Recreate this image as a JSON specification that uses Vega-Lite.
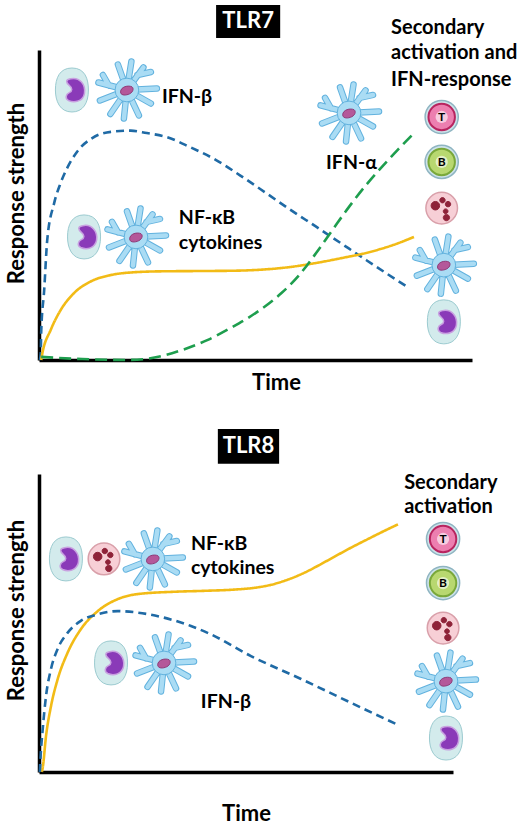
{
  "$schema": "https://vega.github.io/schema/vega-lite/v6.json",
  "background": "white",
  "padding": 5,
  "spacing": 36,
  "config": {
    "view": {"stroke": null},
    "axis": {"domainColor": "black", "domainWidth": 3.5, "ticks": false, "labels": false, "grid": false, "titleFont": "Lato", "titleFontSize": 22, "titleFontWeight": "bold", "titleColor": "black"},
    "text": {"font": "Lato"}
  },
  "vconcat": [
    {
      "width": 433,
      "height": 310,
      "encoding": {
        "x": {"field": "x", "type": "quantitative", "scale": {"domain": [0, 100], "nice": false, "zero": false}, "axis": {"title": "Time", "titlePadding": 12, "titleX": 237}},
        "y": {"field": "y", "type": "quantitative", "scale": {"domain": [0, 100], "nice": false, "zero": false}, "axis": {"title": "Response strength", "titlePadding": 11, "titleY": 143}}
      },
      "layer": [
        {
          "data": {"values": [{"x": 40.9, "x2": 55.7, "y": 103.9, "y2": 114.5}]},
          "mark": {"type": "rect", "color": "black"},
          "encoding": {"x2": {"field": "x2"}, "y2": {"field": "y2"}}
        },
        {
          "data": {"values": [{"x": 48.3, "y": 109.2, "label": "TLR7"}]},
          "mark": {"type": "text", "color": "white", "fontWeight": "bold", "fontSize": 22, "align": "center", "baseline": "middle"},
          "encoding": {"text": {"field": "label"}}
        },
        {
          "data": {"values": [
            {"s": "b", "x": 0.2, "y": 0}, {"s": "b", "x": 0.4, "y": 2.3}, {"s": "b", "x": 0.5, "y": 8.7}, {"s": "b", "x": 1.2, "y": 22.6}, {"s": "b", "x": 1.9, "y": 38.7}, {"s": "b", "x": 3.5, "y": 50.6}, {"s": "b", "x": 5, "y": 57.1}, {"s": "b", "x": 6.5, "y": 61.9}, {"s": "b", "x": 8.8, "y": 67.2}, {"s": "b", "x": 12.3, "y": 71.6}, {"s": "b", "x": 16.6, "y": 73.6}, {"s": "b", "x": 21.2, "y": 74}, {"s": "b", "x": 24.9, "y": 73.2}, {"s": "b", "x": 29.3, "y": 72}, {"s": "b", "x": 35, "y": 68.6}, {"s": "b", "x": 40.9, "y": 64.5}, {"s": "b", "x": 46.5, "y": 59.5}, {"s": "b", "x": 52.4, "y": 53.9}, {"s": "b", "x": 58, "y": 48.5}, {"s": "b", "x": 64, "y": 43}, {"s": "b", "x": 69.8, "y": 37.6}, {"s": "b", "x": 75.5, "y": 32.3}, {"s": "b", "x": 80.5, "y": 27.7}, {"s": "b", "x": 85.5, "y": 23.2},
            {"s": "n", "x": 0.5, "y": 0}, {"s": "n", "x": 0.8, "y": 2.3}, {"s": "n", "x": 2.7, "y": 9.7}, {"s": "n", "x": 5, "y": 16.1}, {"s": "n", "x": 8.1, "y": 21.6}, {"s": "n", "x": 11.9, "y": 25.3}, {"s": "n", "x": 16.6, "y": 27.4}, {"s": "n", "x": 21.9, "y": 28.3}, {"s": "n", "x": 28, "y": 28.6}, {"s": "n", "x": 37, "y": 28.7}, {"s": "n", "x": 45, "y": 28.8}, {"s": "n", "x": 52, "y": 29.2}, {"s": "n", "x": 58, "y": 30}, {"s": "n", "x": 64, "y": 31.3}, {"s": "n", "x": 70, "y": 32.9}, {"s": "n", "x": 76, "y": 34.7}, {"s": "n", "x": 82, "y": 37.2}, {"s": "n", "x": 86.6, "y": 39.7},
            {"s": "a", "x": 0.5, "y": 1}, {"s": "a", "x": 10, "y": 0.3}, {"s": "a", "x": 20, "y": 0}, {"s": "a", "x": 25, "y": 0.4}, {"s": "a", "x": 29, "y": 1.5}, {"s": "a", "x": 33, "y": 3.2}, {"s": "a", "x": 39, "y": 6.5}, {"s": "a", "x": 44.6, "y": 10.6}, {"s": "a", "x": 50.5, "y": 15.6}, {"s": "a", "x": 56, "y": 21.6}, {"s": "a", "x": 60.2, "y": 27.6}, {"s": "a", "x": 64, "y": 34.5}, {"s": "a", "x": 67.8, "y": 42}, {"s": "a", "x": 71.6, "y": 49.4}, {"s": "a", "x": 75.4, "y": 56.2}, {"s": "a", "x": 79.2, "y": 62.3}, {"s": "a", "x": 83, "y": 68}, {"s": "a", "x": 86.6, "y": 73.2}
          ]},
          "mark": {"type": "line", "strokeWidth": 2.6, "interpolate": "monotone"},
          "encoding": {
            "color": {"field": "s", "type": "nominal", "scale": {"domain": ["b", "n", "a"], "range": ["#1f6aa5", "#f2bb16", "#1e9e4e"]}, "legend": null},
            "strokeDash": {"field": "s", "type": "nominal", "scale": {"domain": ["b", "n", "a"], "range": [[8, 5], [1, 0], [12, 6]]}, "legend": null}
          }
        },
        {
          "data": {"values": [{"x": 28.4, "y": 84.8, "text": "IFN-β"}, {"x": 32.3, "y": 45.8, "text": "NF-κB"}, {"x": 32.3, "y": 37.7, "text": "cytokines"}, {"x": 66.3, "y": 63.5, "text": "IFN-α"}]},
          "mark": {"type": "text", "fontWeight": "bold", "fontSize": 19.5, "align": "left", "baseline": "middle", "color": "black"},
          "encoding": {"text": {"field": "text"}}
        },
        {
          "data": {"values": [{"x": 81.3, "y": 107, "text": "Secondary"}, {"x": 81.3, "y": 99, "text": "activation and"}, {"x": 81.3, "y": 90.3, "text": "IFN-response"}]},
          "mark": {"type": "text", "fontWeight": "bold", "fontSize": 20, "align": "left", "baseline": "middle", "color": "black"},
          "encoding": {"text": {"field": "text"}}
        },
        {
          "data": {"values": [{"x": 7.6, "y": 87.1, "type": "mono"}, {"x": 20.3, "y": 87.1, "type": "dc"}, {"x": 10.4, "y": 39.7, "type": "mono"}, {"x": 22.4, "y": 39.7, "type": "dc"}, {"x": 71.6, "y": 79.7, "type": "dc"}, {"x": 93, "y": 78.4, "type": "T"}, {"x": 93, "y": 63.9, "type": "B"}, {"x": 93, "y": 49, "type": "neut"}, {"x": 93.5, "y": 30.6, "type": "dc"}, {"x": 93.5, "y": 12.3, "type": "mono"}]},
          "layer": [
            {"transform": [{"filter": "datum.type == 'dc'"}], "mark": {"type": "point", "opacity": 1, "filled": false, "shape": "M0,0L-0.95,-0.25M-0.6,-0.15L-0.8,-0.5M0,0L-0.3,-0.85M0,0L0.15,-0.95M0,0L0.55,-0.75M0.35,-0.5L0.8,-0.6M0,0L1,-0.05M0,0L0.8,0.45M0,0L0.4,0.85M0,0L-0.1,0.95M0,0L-0.55,0.8M0,0L-0.9,0.35", "size": 3600, "stroke": "#62b2de", "strokeWidth": 6.5, "strokeCap": "round", "strokeJoin": "round"}},
            {"transform": [{"filter": "datum.type == 'dc'"}], "mark": {"type": "point", "opacity": 1, "filled": false, "shape": "M0,0L-0.95,-0.25M-0.6,-0.15L-0.8,-0.5M0,0L-0.3,-0.85M0,0L0.15,-0.95M0,0L0.55,-0.75M0.35,-0.5L0.8,-0.6M0,0L1,-0.05M0,0L0.8,0.45M0,0L0.4,0.85M0,0L-0.1,0.95M0,0L-0.55,0.8M0,0L-0.9,0.35", "size": 3600, "stroke": "#aadcf4", "strokeWidth": 4.5, "strokeCap": "round", "strokeJoin": "round"}},
            {"transform": [{"filter": "datum.type == 'dc'"}], "mark": {"type": "point", "opacity": 1, "filled": true, "shape": "circle", "size": 560, "fill": "#aadcf4", "stroke": "#62b2de", "strokeWidth": 1}},
            {"transform": [{"filter": "datum.type == 'dc'"}], "mark": {"type": "point", "opacity": 1, "filled": true, "shape": "M-1,0.3C-1,-0.5 0.2,-0.8 0.8,-0.5C1.2,-0.2 0.9,0.5 0.2,0.7C-0.4,0.9 -1,0.8 -1,0.3Z", "size": 160, "fill": "#b4589a", "stroke": "#8e3c78", "strokeWidth": 1}},
            {"transform": [{"filter": "datum.type == 'mono'"}], "mark": {"type": "point", "opacity": 1, "filled": true, "shape": "M0,-1C0.6,-1 0.75,-0.5 0.75,0C0.75,0.6 0.5,1 0,1C-0.55,1 -0.75,0.5 -0.75,0C-0.75,-0.55 -0.55,-1 0,-1Z", "size": 1936, "fill": "#d3ebec", "stroke": "#9ccbd0", "strokeWidth": 1}},
            {"transform": [{"filter": "datum.type == 'mono'"}], "mark": {"type": "point", "opacity": 1, "filled": true, "shape": "M-0.1,-0.85C0.6,-1 1.05,-0.4 0.95,0.25C0.85,0.85 0.2,1 -0.25,0.8C-0.55,0.65 -0.45,0.3 -0.2,0.2C0.05,0.1 0.05,-0.15 -0.2,-0.35C-0.45,-0.55 -0.5,-0.8 -0.1,-0.85Z", "size": 700, "fill": "#8a3ab8", "stroke": "#c8a0e0", "strokeWidth": 1.5}},
            {"transform": [{"filter": "datum.type == 'T' || datum.type == 'B'"}], "mark": {"type": "point", "opacity": 1, "filled": true, "shape": "circle", "size": 1100, "fill": "#cde3ea", "stroke": "#8fb5c2", "strokeWidth": 1.5}},
            {"transform": [{"filter": "datum.type == 'T'"}], "mark": {"type": "point", "opacity": 1, "filled": true, "shape": "circle", "size": 700, "fill": "#ec7fb0", "stroke": "#b8245f", "strokeWidth": 2}},
            {"transform": [{"filter": "datum.type == 'B'"}], "mark": {"type": "point", "opacity": 1, "filled": true, "shape": "circle", "size": 700, "fill": "#b8d870", "stroke": "#7aa83a", "strokeWidth": 2}},
            {"transform": [{"filter": "datum.type == 'T' || datum.type == 'B'"}], "mark": {"type": "point", "opacity": 0.6, "filled": true, "shape": "circle", "size": 150, "fill": "white", "strokeWidth": 0}},
            {"transform": [{"filter": "datum.type == 'T' || datum.type == 'B'"}], "mark": {"type": "text", "fontWeight": "bold", "fontSize": 12, "align": "center", "baseline": "middle", "color": "black"}, "encoding": {"text": {"field": "type"}}},
            {"transform": [{"filter": "datum.type == 'neut'"}], "mark": {"type": "point", "opacity": 1, "filled": true, "shape": "circle", "size": 1000, "fill": "#f7cfd6", "stroke": "#d9a0aa", "strokeWidth": 1.5}},
            {"transform": [{"filter": "datum.type == 'neut'"}], "mark": {"type": "point", "opacity": 1, "filled": true, "shape": "M-0.67,-0.15a0.27,0.27 0 1,0 0.54,0a0.27,0.27 0 1,0 -0.54,0M-0.12,-0.5a0.17,0.17 0 1,0 0.34,0a0.17,0.17 0 1,0 -0.34,0M0.23,-0.25a0.17,0.17 0 1,0 0.34,0a0.17,0.17 0 1,0 -0.34,0M0.1,0.2a0.15,0.15 0 1,0 0.3,0a0.15,0.15 0 1,0 -0.3,0M0.1,0.6a0.2,0.2 0 1,0 0.4,0a0.2,0.2 0 1,0 -0.4,0", "size": 1000, "fill": "#8e2238", "stroke": "#8e2238", "strokeWidth": 1}}
          ]
        }
      ]
    },
    {
      "width": 414,
      "height": 298,
      "encoding": {
        "x": {"field": "x", "type": "quantitative", "scale": {"domain": [0, 100], "nice": false, "zero": false}, "axis": {"title": "Time", "titlePadding": 31}},
        "y": {"field": "y", "type": "quantitative", "scale": {"domain": [0, 100], "nice": false, "zero": false}, "axis": {"title": "Response strength", "titlePadding": 11, "titleY": 136}}
      },
      "layer": [
        {
          "data": {"values": [{"x": 43.2, "x2": 58, "y": 103.4, "y2": 115.1}]},
          "mark": {"type": "rect", "color": "black"},
          "encoding": {"x2": {"field": "x2"}, "y2": {"field": "y2"}}
        },
        {
          "data": {"values": [{"x": 50.6, "y": 109.3, "label": "TLR8"}]},
          "mark": {"type": "text", "color": "white", "fontWeight": "bold", "fontSize": 22, "align": "center", "baseline": "middle"},
          "encoding": {"text": {"field": "label"}}
        },
        {
          "data": {"values": [
            {"s": "n", "x": 0.7, "y": 0}, {"s": "n", "x": 0.9, "y": 1.4}, {"s": "n", "x": 1.7, "y": 12.1}, {"s": "n", "x": 2.9, "y": 22.1}, {"s": "n", "x": 4.5, "y": 31.1}, {"s": "n", "x": 6.9, "y": 40}, {"s": "n", "x": 10.1, "y": 47.9}, {"s": "n", "x": 14.2, "y": 54}, {"s": "n", "x": 19, "y": 58}, {"s": "n", "x": 23.8, "y": 59.7}, {"s": "n", "x": 33, "y": 60.5}, {"s": "n", "x": 40, "y": 60.8}, {"s": "n", "x": 47, "y": 61.2}, {"s": "n", "x": 52, "y": 61.8}, {"s": "n", "x": 56, "y": 62.8}, {"s": "n", "x": 60, "y": 64.5}, {"s": "n", "x": 64, "y": 66.8}, {"s": "n", "x": 67.5, "y": 69.3}, {"s": "n", "x": 71.3, "y": 72.2}, {"s": "n", "x": 75.4, "y": 75.3}, {"s": "n", "x": 79.5, "y": 78.2}, {"s": "n", "x": 83.1, "y": 80.7}, {"s": "n", "x": 86.7, "y": 83.1},
            {"s": "b", "x": 0.2, "y": 0}, {"s": "b", "x": 0.3, "y": 3.1}, {"s": "b", "x": 0.9, "y": 14.4}, {"s": "b", "x": 1.7, "y": 25.5}, {"s": "b", "x": 2.9, "y": 34.6}, {"s": "b", "x": 4.5, "y": 41.3}, {"s": "b", "x": 6.9, "y": 46.7}, {"s": "b", "x": 10.1, "y": 50.7}, {"s": "b", "x": 14.2, "y": 52.9}, {"s": "b", "x": 19, "y": 54}, {"s": "b", "x": 23.8, "y": 53.5}, {"s": "b", "x": 30.2, "y": 51.8}, {"s": "b", "x": 36.7, "y": 49}, {"s": "b", "x": 41.5, "y": 46.2}, {"s": "b", "x": 51.2, "y": 38.9}, {"s": "b", "x": 63.3, "y": 31.2}, {"s": "b", "x": 75.4, "y": 23.2}, {"s": "b", "x": 86.7, "y": 15.8}
          ]},
          "mark": {"type": "line", "strokeWidth": 2.6, "interpolate": "monotone"},
          "encoding": {
            "color": {"field": "s", "type": "nominal", "scale": {"domain": ["b", "n"], "range": ["#1f6aa5", "#f2bb16"]}, "legend": null},
            "strokeDash": {"field": "s", "type": "nominal", "scale": {"domain": ["b", "n"], "range": [[8, 5], [1, 0]]}, "legend": null}
          }
        },
        {
          "data": {"values": [{"x": 36.7, "y": 76.5, "text": "NF-κB"}, {"x": 36.7, "y": 68.5, "text": "cytokines"}, {"x": 39.1, "y": 23.5, "text": "IFN-β"}]},
          "mark": {"type": "text", "fontWeight": "bold", "fontSize": 19.5, "align": "left", "baseline": "middle", "color": "black"},
          "encoding": {"text": {"field": "text"}}
        },
        {
          "data": {"values": [{"x": 88.2, "y": 97, "text": "Secondary"}, {"x": 88.2, "y": 88.9, "text": "activation"}]},
          "mark": {"type": "text", "fontWeight": "bold", "fontSize": 20, "align": "left", "baseline": "middle", "color": "black"},
          "encoding": {"text": {"field": "text"}}
        },
        {
          "data": {"values": [{"x": 6.5, "y": 71.5, "type": "mono"}, {"x": 15.7, "y": 71.5, "type": "neut"}, {"x": 27.5, "y": 71.5, "type": "dc"}, {"x": 17.4, "y": 36.6, "type": "mono"}, {"x": 30.2, "y": 36.6, "type": "dc"}, {"x": 97.6, "y": 78.2, "type": "T"}, {"x": 97.6, "y": 63.4, "type": "B"}, {"x": 97.6, "y": 48.3, "type": "neut"}, {"x": 98.3, "y": 30.5, "type": "dc"}, {"x": 98.3, "y": 11.4, "type": "mono"}]},
          "layer": [
            {"transform": [{"filter": "datum.type == 'dc'"}], "mark": {"type": "point", "opacity": 1, "filled": false, "shape": "M0,0L-0.95,-0.25M-0.6,-0.15L-0.8,-0.5M0,0L-0.3,-0.85M0,0L0.15,-0.95M0,0L0.55,-0.75M0.35,-0.5L0.8,-0.6M0,0L1,-0.05M0,0L0.8,0.45M0,0L0.4,0.85M0,0L-0.1,0.95M0,0L-0.55,0.8M0,0L-0.9,0.35", "size": 3600, "stroke": "#62b2de", "strokeWidth": 6.5, "strokeCap": "round", "strokeJoin": "round"}},
            {"transform": [{"filter": "datum.type == 'dc'"}], "mark": {"type": "point", "opacity": 1, "filled": false, "shape": "M0,0L-0.95,-0.25M-0.6,-0.15L-0.8,-0.5M0,0L-0.3,-0.85M0,0L0.15,-0.95M0,0L0.55,-0.75M0.35,-0.5L0.8,-0.6M0,0L1,-0.05M0,0L0.8,0.45M0,0L0.4,0.85M0,0L-0.1,0.95M0,0L-0.55,0.8M0,0L-0.9,0.35", "size": 3600, "stroke": "#aadcf4", "strokeWidth": 4.5, "strokeCap": "round", "strokeJoin": "round"}},
            {"transform": [{"filter": "datum.type == 'dc'"}], "mark": {"type": "point", "opacity": 1, "filled": true, "shape": "circle", "size": 560, "fill": "#aadcf4", "stroke": "#62b2de", "strokeWidth": 1}},
            {"transform": [{"filter": "datum.type == 'dc'"}], "mark": {"type": "point", "opacity": 1, "filled": true, "shape": "M-1,0.3C-1,-0.5 0.2,-0.8 0.8,-0.5C1.2,-0.2 0.9,0.5 0.2,0.7C-0.4,0.9 -1,0.8 -1,0.3Z", "size": 160, "fill": "#b4589a", "stroke": "#8e3c78", "strokeWidth": 1}},
            {"transform": [{"filter": "datum.type == 'mono'"}], "mark": {"type": "point", "opacity": 1, "filled": true, "shape": "M0,-1C0.6,-1 0.75,-0.5 0.75,0C0.75,0.6 0.5,1 0,1C-0.55,1 -0.75,0.5 -0.75,0C-0.75,-0.55 -0.55,-1 0,-1Z", "size": 1936, "fill": "#d3ebec", "stroke": "#9ccbd0", "strokeWidth": 1}},
            {"transform": [{"filter": "datum.type == 'mono'"}], "mark": {"type": "point", "opacity": 1, "filled": true, "shape": "M-0.1,-0.85C0.6,-1 1.05,-0.4 0.95,0.25C0.85,0.85 0.2,1 -0.25,0.8C-0.55,0.65 -0.45,0.3 -0.2,0.2C0.05,0.1 0.05,-0.15 -0.2,-0.35C-0.45,-0.55 -0.5,-0.8 -0.1,-0.85Z", "size": 700, "fill": "#8a3ab8", "stroke": "#c8a0e0", "strokeWidth": 1.5}},
            {"transform": [{"filter": "datum.type == 'T' || datum.type == 'B'"}], "mark": {"type": "point", "opacity": 1, "filled": true, "shape": "circle", "size": 1100, "fill": "#cde3ea", "stroke": "#8fb5c2", "strokeWidth": 1.5}},
            {"transform": [{"filter": "datum.type == 'T'"}], "mark": {"type": "point", "opacity": 1, "filled": true, "shape": "circle", "size": 700, "fill": "#ec7fb0", "stroke": "#b8245f", "strokeWidth": 2}},
            {"transform": [{"filter": "datum.type == 'B'"}], "mark": {"type": "point", "opacity": 1, "filled": true, "shape": "circle", "size": 700, "fill": "#b8d870", "stroke": "#7aa83a", "strokeWidth": 2}},
            {"transform": [{"filter": "datum.type == 'T' || datum.type == 'B'"}], "mark": {"type": "point", "opacity": 0.6, "filled": true, "shape": "circle", "size": 150, "fill": "white", "strokeWidth": 0}},
            {"transform": [{"filter": "datum.type == 'T' || datum.type == 'B'"}], "mark": {"type": "text", "fontWeight": "bold", "fontSize": 12, "align": "center", "baseline": "middle", "color": "black"}, "encoding": {"text": {"field": "type"}}},
            {"transform": [{"filter": "datum.type == 'neut'"}], "mark": {"type": "point", "opacity": 1, "filled": true, "shape": "circle", "size": 1000, "fill": "#f7cfd6", "stroke": "#d9a0aa", "strokeWidth": 1.5}},
            {"transform": [{"filter": "datum.type == 'neut'"}], "mark": {"type": "point", "opacity": 1, "filled": true, "shape": "M-0.67,-0.15a0.27,0.27 0 1,0 0.54,0a0.27,0.27 0 1,0 -0.54,0M-0.12,-0.5a0.17,0.17 0 1,0 0.34,0a0.17,0.17 0 1,0 -0.34,0M0.23,-0.25a0.17,0.17 0 1,0 0.34,0a0.17,0.17 0 1,0 -0.34,0M0.1,0.2a0.15,0.15 0 1,0 0.3,0a0.15,0.15 0 1,0 -0.3,0M0.1,0.6a0.2,0.2 0 1,0 0.4,0a0.2,0.2 0 1,0 -0.4,0", "size": 1000, "fill": "#8e2238", "stroke": "#8e2238", "strokeWidth": 1}}
          ]
        }
      ]
    }
  ]
}
